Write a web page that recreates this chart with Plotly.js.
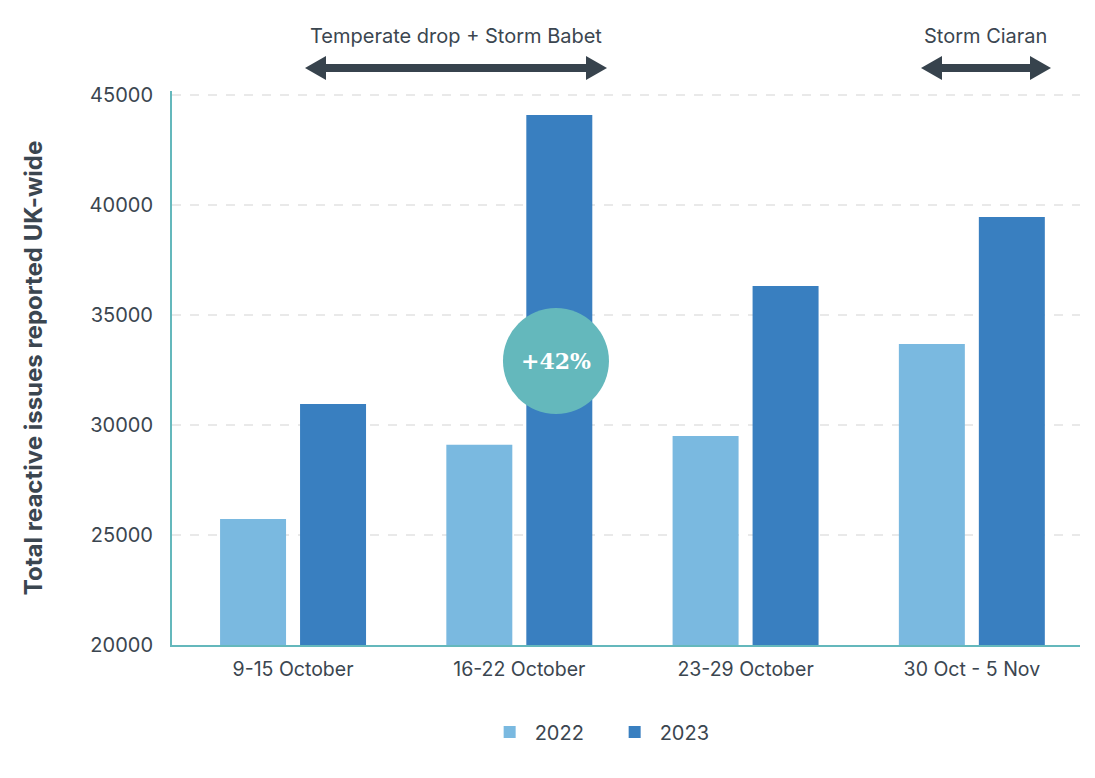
<!DOCTYPE html>
<html>
<head>
<meta charset="utf-8">
<script src="https://cdn.plot.ly/plotly-3.0.1.min.js"></script>
<style>html,body{margin:0;padding:0;background:#fff;} #chart{width:1095px;height:778px;}</style>
</head>
<body>
<div id="chart"></div>
<script>
const categories = ["9-15 October", "16-22 October", "23-29 October", "30 Oct - 5 Nov"];
const values2022 = [25730, 29100, 29500, 33680];
const values2023 = [30950, 44090, 36320, 39450];
const seriesNames = ["2022", "2023"];
const yTicks = [20000, 25000, 30000, 35000, 40000, 45000];
const eventLabels = ["Temperate drop + Storm Babet", "Storm Ciaran"];
const changeLabel = "+42%";

const dark = "#3b4650";
const arrowColor = "#37434d";
const teal = "#64b8bc";

// plot area pixel geometry helpers (for decorations only)
const L = 172, R = 1080, T = 91, B = 645;
const px = x => (x - L) / (R - L);
const py = y => (B - y) / (B - T);

function arrow(x0, x1, y) {
  const hl = 21, hh = 12;
  return [
    {type: "line", xref: "paper", yref: "paper", x0: px(x0 + hl - 2), x1: px(x1 - hl + 2), y0: py(y), y1: py(y),
     line: {color: arrowColor, width: 8}},
    {type: "path", xref: "paper", yref: "paper", fillcolor: arrowColor, line: {width: 0},
     path: `M${px(x0)},${py(y)} L${px(x0 + hl)},${py(y - hh)} L${px(x0 + hl)},${py(y + hh)} Z`},
    {type: "path", xref: "paper", yref: "paper", fillcolor: arrowColor, line: {width: 0},
     path: `M${px(x1)},${py(y)} L${px(x1 - hl)},${py(y - hh)} L${px(x1 - hl)},${py(y + hh)} Z`}
  ];
}

const traces = [
  {type: "bar", name: seriesNames[0], x: categories, y: values2022, marker: {color: "#7ab9e0"}, hoverinfo: "x+y"},
  {type: "bar", name: seriesNames[1], x: categories, y: values2023, marker: {color: "#397fc0"}, hoverinfo: "x+y"}
];

const shapes = [
  ...arrow(305, 607, 68),
  ...arrow(921, 1051, 68),
  {type: "circle", xref: "x", yref: "y", xsizemode: "pixel", ysizemode: "pixel",
   xanchor: 1.162, yanchor: 32910, x0: -53, x1: 53, y0: -53, y1: 53,
   fillcolor: teal, line: {width: 0}, layer: "above"}
];

const annotations = [
  {xref: "paper", yref: "paper", x: px(456), y: py(36), xanchor: "center", yanchor: "middle",
   text: eventLabels[0], showarrow: false,
   font: {family: "Inter, sans-serif", size: 20, color: dark}},
  {xref: "paper", yref: "paper", x: px(985), y: py(36), xanchor: "center", yanchor: "middle",
   text: eventLabels[1], showarrow: false,
   font: {family: "Inter, sans-serif", size: 20, color: dark}},
  {xref: "x", yref: "y", x: 1.162, y: 32910, xanchor: "center", yanchor: "middle",
   text: "<b>" + changeLabel + "</b>", showarrow: false,
   font: {family: "DejaVu Serif, serif", size: 22, color: "#ffffff"}}
];

const layout = {
  width: 1095, height: 778,
  margin: {l: L, r: 1095 - R, t: T, b: 778 - B},
  paper_bgcolor: "#ffffff", plot_bgcolor: "#ffffff",
  font: {family: "Inter, sans-serif", size: 19, color: dark},
  barmode: "group", bargap: 0.293, bargroupgap: 0.175,
  showlegend: true,
  legend: {orientation: "h", x: 0.482, xanchor: "center", y: -0.157, yanchor: "middle",
           font: {size: 20, color: dark}, itemwidth: 40, entrywidth: 70, traceorder: "normal"},
  xaxis: {type: "category", range: [-0.535, 3.478], showline: true, linecolor: teal, linewidth: 2,
          showgrid: false, ticks: "", tickfont: {size: 19.5, color: dark}, ticklabelstandoff: 6},
  yaxis: {range: [20000, 45180], tickvals: yTicks, ticktext: yTicks.map(String), showline: true,
          linecolor: teal, linewidth: 2, showgrid: true, gridcolor: "#e9e9e9", gridwidth: 2, griddash: "dash",
          zeroline: false, ticks: "", ticklabelstandoff: 13, tickfont: {size: 20, color: dark},
          title: {text: "<b>Total reactive issues reported UK-wide</b>", font: {size: 24, color: dark}, standoff: 40}},
  shapes: shapes,
  annotations: annotations
};

Plotly.newPlot("chart", traces, layout, {displayModeBar: false, responsive: false});
</script>
</body>
</html>
